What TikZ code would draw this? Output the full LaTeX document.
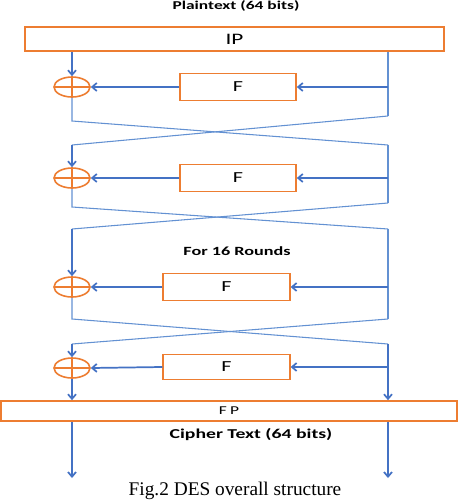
\documentclass[tikz,border=0pt]{standalone}
\usepackage{fontspec}
\setmainfont{Liberation Serif}
\newfontfamily\calfont[FakeStretch=1.45]{Carlito}
\usepackage{xcolor}
\usetikzlibrary{positioning,shapes.geometric,arrows.meta}
\definecolor{boxorange}{HTML}{ED7D31}
\definecolor{wireblue}{HTML}{4472C4}
\definecolor{crossblue}{HTML}{6391D2}

\begin{document}
\begin{tikzpicture}[
    x=0.75pt, y=-0.75pt,
    every node/.style={inner sep=0pt, align=center},
    box/.style={rectangle, draw=boxorange, line width=1.2pt, font=\calfont\fontsize{11.5}{12}\selectfont},
    fbox/.style={box, minimum width=87pt, minimum height=20pt},
    xorgate/.style={ellipse, draw=boxorange, line width=1.2pt, minimum width=27pt, minimum height=15pt,
        path picture={\draw[boxorange, line width=1pt] (path picture bounding box.north) -- (path picture bounding box.south)
            (path picture bounding box.west) -- (path picture bounding box.east);}},
    arr/.style={-{Straight Barb[length=3.5pt, width=6pt]}, wireblue, line width=1.3pt},
    wire/.style={crossblue, line width=0.8pt},
    tag/.style={font=\calfont\bfseries\fontsize{9}{10}\selectfont}
]
\useasboundingbox (0,0) rectangle (474,501);

% Nodes
\node[tag] (plain) at (236,6) {Plaintext (64 bits)};
\node[box, minimum width=314pt, minimum height=18pt, font=\calfont\fontsize{12}{12}\selectfont] (ip) at (234.5,39) {IP};

\node[xorgate] (x1) at (72,87) {};
\node[fbox] (f1) at (238,87) {F};
\node[xorgate] (x2) at (72,178) {};
\node[fbox] (f2) at (238,178) {F};
\node[tag, font=\calfont\bfseries\fontsize{9.4}{10}\selectfont] (rounds) at (237,251) {For 16 Rounds};
\node[xorgate] (x3) at (72,287) {};
\node[fbox, minimum width=95pt] (f3) at (226.5,287) {F};
\node[xorgate] (x4) at (72,368) {};
\node[fbox, minimum width=95pt, minimum height=19pt] (f4) at (226.5,367) {F};

\node[box, minimum width=342pt, minimum height=15pt, font=\calfont\fontsize{9}{10}\selectfont] (fp) at (229,411) {F\hspace{2.5pt}P};
\node[tag, font=\calfont\bfseries\fontsize{10.2}{11}\selectfont] (cipher) at (251,435) {Cipher Text (64 bits)};
\node[font=\fontsize{14.5}{15}\selectfont] (caption) at (235,491) {Fig.2 DES overall structure};

% Crossing points
\coordinate (l1top) at (72,121);  \coordinate (r1top) at (388,116);
\coordinate (l1bot) at (72,145);  \coordinate (r1bot) at (388,145);
\coordinate (l2top) at (72,207);  \coordinate (r2top) at (388,203);
\coordinate (l2bot) at (72,229);  \coordinate (r2bot) at (388,229);
\coordinate (l3top) at (72,319);  \coordinate (r3top) at (388,319);
\coordinate (l3bot) at (72,344);  \coordinate (r3bot) at (388,344);
\coordinate (outl) at (72,478);   \coordinate (outr) at (388,478);

% Round 1
\draw[arr] (ip.south -| x1) -- (x1.north);
\draw[wire] (ip.south -| r1top) -- (r1top);
\draw[arr] (f1 -| r1top) -- (f1.east);
\draw[arr] (f1.west) -- (x1.east);
\draw[wire] (x1.south) -- (l1top) -- (r1bot);
\draw[wire] (r1top) -- (l1bot);

% Round 2
\draw[arr] (l1bot) -- (x2.north);
\draw[wire] (r1bot) -- (r2top);
\draw[arr] (f2 -| r2top) -- (f2.east);
\draw[arr] (f2.west) -- (x2.east);
\draw[wire] (x2.south) -- (l2top) -- (r2bot);
\draw[wire] (r2top) -- (l2bot);

% Round 3
\draw[arr] (l2bot) -- (x3.north);
\draw[wire] (r2bot) -- (r3top);
\draw[arr] (f3 -| r3top) -- (f3.east);
\draw[arr] (f3.west) -- (x3.east);
\draw[wire] (x3.south) -- (l3top) -- (r3bot);
\draw[wire] (r3top) -- (l3bot);

% Last round
\draw[arr] (l3bot) -- (x4.north);
\draw[arr] (r3bot) -- (fp.north -| r3bot);
\draw[arr] (f4 -| r3bot) -- (f4.east);
\draw[arr] (f4.west) -- (x4.east);
\draw[arr] (x4.south) -- (fp.north -| x4);

% Output
\draw[arr] (fp.south -| outl) -- (outl);
\draw[arr] (fp.south -| outr) -- (outr);

\end{tikzpicture}
\end{document}
